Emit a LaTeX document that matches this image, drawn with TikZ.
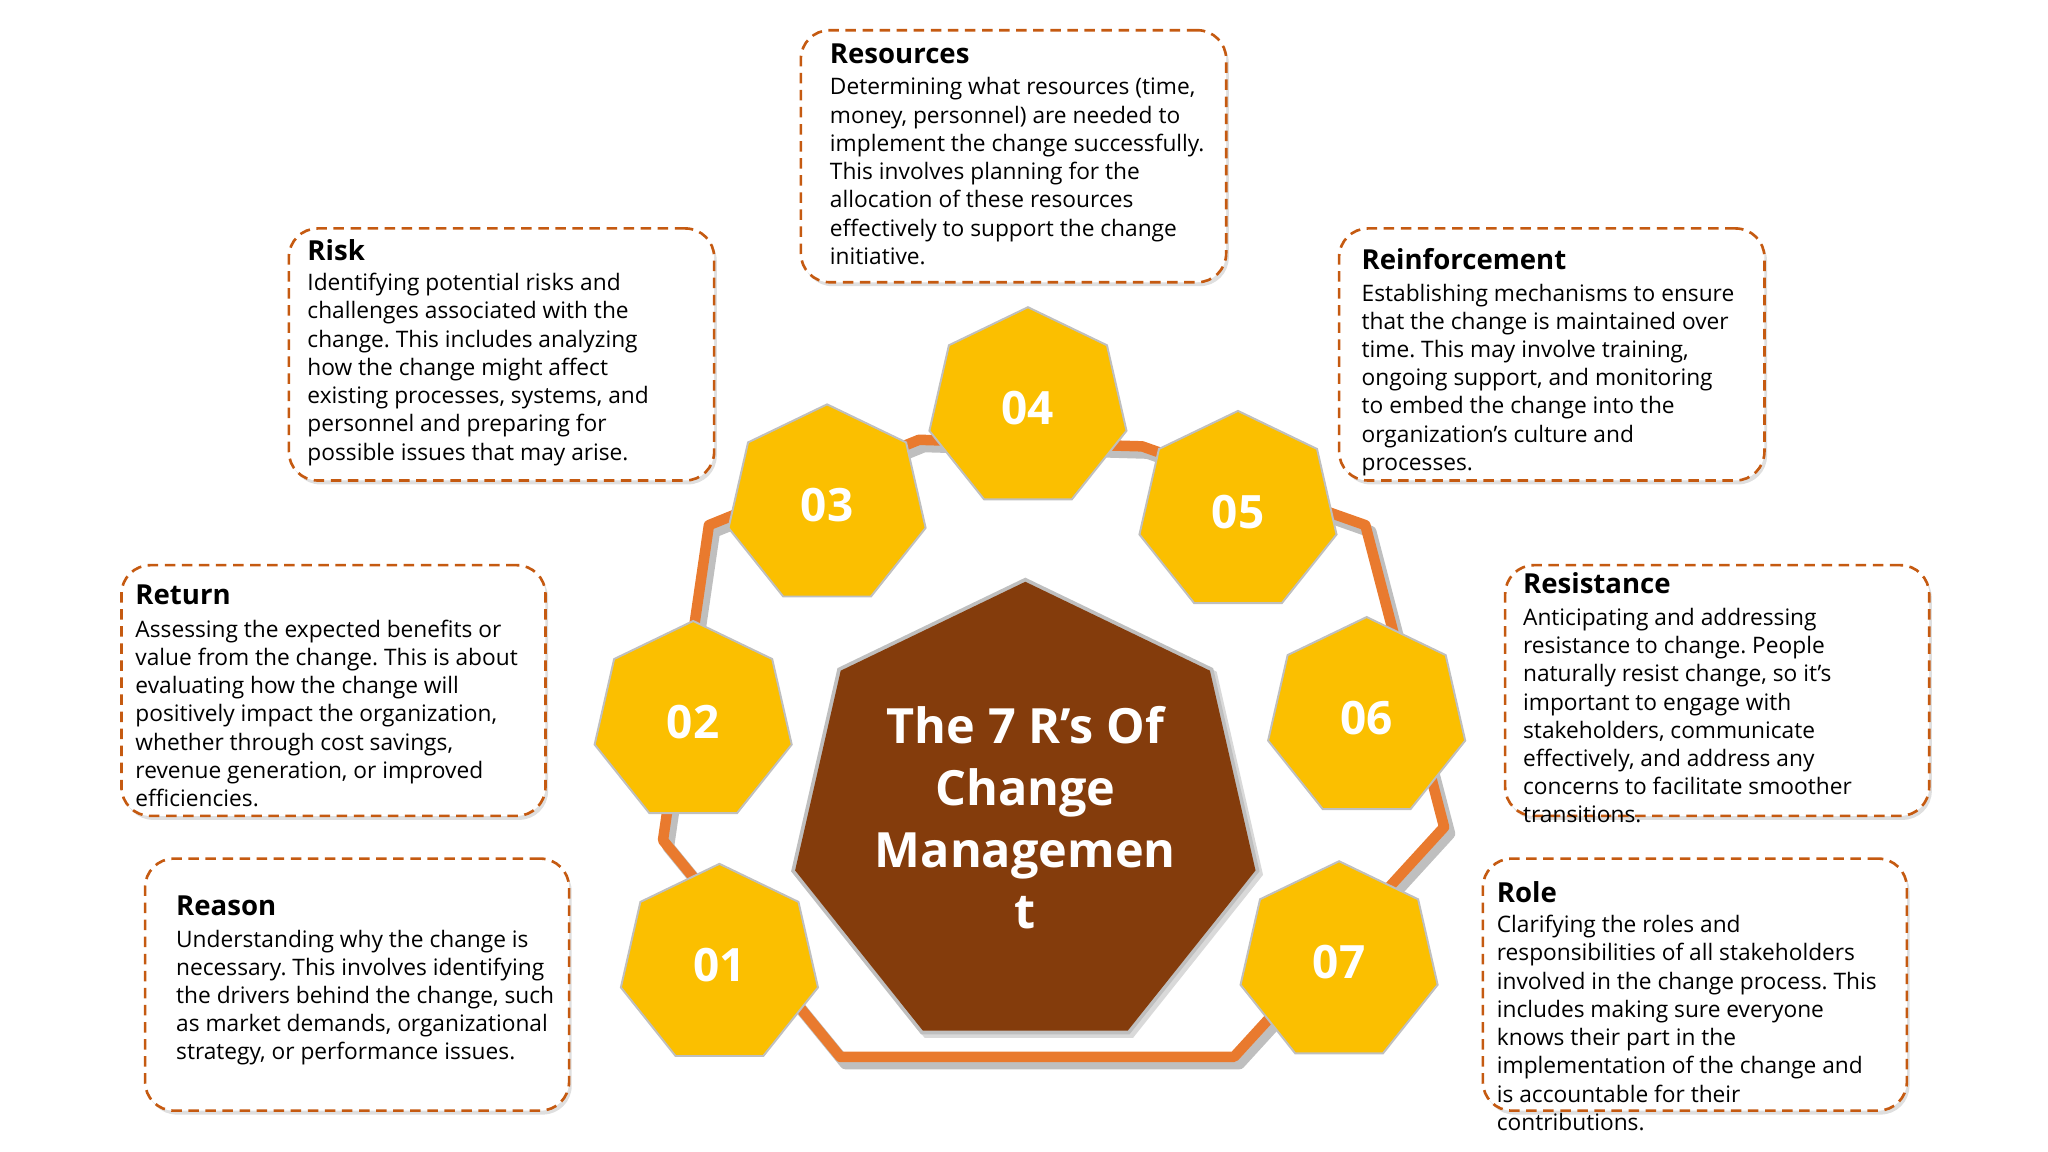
\documentclass[tikz,border=0pt]{standalone}
\usepackage{fontspec}
\setmainfont{Open Sans}
\frenchspacing
\usetikzlibrary{shapes.geometric,shadows}
\definecolor{yel}{HTML}{FBBF00}
\definecolor{brn}{HTML}{843C0C}
\definecolor{org}{HTML}{E97A2E}
\definecolor{dsh}{HTML}{C55A11}
\definecolor{gry}{HTML}{BFBFBF}
\tikzset{
 hept/.style={regular polygon,regular polygon sides=7,inner sep=0pt,minimum size=154pt,fill=yel,draw=gry,line width=1.5pt,text=white,font=\fontsize{35}{40}\selectfont\bfseries},
 infobox/.style={draw=dsh,line width=2pt,dash pattern=on 8pt off 5pt,rounded corners=22pt,fill=white,drop shadow={shadow xshift=2pt,shadow yshift=-3pt,opacity=0.25}},
 ttl/.style={anchor=north west,inner sep=0pt,font=\fontsize{21}{25}\selectfont\bfseries},
 bdy/.style={anchor=north west,inner sep=0pt,align=left,font=\fontsize{17.3}{21.5}\selectfont},
}
\begin{document}
\begin{tikzpicture}[x=1pt,y=-1pt]
\useasboundingbox (0,0) rectangle (1560,877.5);
% ring
\draw[gray!50,line width=9pt,line join=round,xshift=4pt,yshift=-5pt] (505,640)--(540,400)--(700,335)--(870,340)--(1040,400)--(1100,630)--(940,805)--(640,805)--cycle;
\draw[org,line width=8pt,line join=round] (505,640)--(540,400)--(700,335)--(870,340)--(1040,400)--(1100,630)--(940,805)--(640,805)--cycle;
% center
\node[regular polygon,regular polygon sides=7,inner sep=0pt,minimum size=366pt,fill=gry,drop shadow={opacity=0.3}] (cg) at (781,623) {};
\node[regular polygon,regular polygon sides=7,inner sep=0pt,minimum size=330pt,fill=brn,align=center,text=white,font=\fontsize{37}{47}\selectfont\bfseries] (c) at (781,623) {The 7 R’s Of\\Change\\Managemen\\t};
% small heptagons
\node[hept] (h1) at (548,735) {01};
\node[hept] (h2) at (528,550) {02};
\node[hept] (h3) at (630,385) {03};
\node[hept] (h4) at (783,311) {04};
\node[hept] (h5) at (943,390) {05};
\node[hept] (h6) at (1041,547) {06};
\node[hept] (h7) at (1020,733) {07};
% boxes
\node[infobox,minimum width=324pt,minimum height=192pt] (bres) at (772,119) {};
\node[infobox,minimum width=324pt,minimum height=192pt] (brisk) at (382,270) {};
\node[infobox,minimum width=324pt,minimum height=192pt] (brein) at (1182,270) {};
\node[infobox,minimum width=323pt,minimum height=191pt] (bret) at (254,526) {};
\node[infobox,minimum width=323pt,minimum height=191pt] (bresi) at (1308,526) {};
\node[infobox,minimum width=323pt,minimum height=192pt] (brea) at (272,750) {};
\node[infobox,minimum width=323pt,minimum height=192pt] (brole) at (1291,750) {};
% texts
\node[ttl] (t1) at (632,33) {Resources};
\node[bdy] (d1) at (632,59) {Determining what resources (time,\\money, personnel) are needed to\\implement the change successfully.\\This involves planning for the\\allocation of these resources\\effectively to support the change\\initiative.};
\node[ttl] (t2) at (234,182) {Risk};
\node[bdy] (d2) at (234,208) {Identifying potential risks and\\challenges associated with the\\change. This includes analyzing\\how the change might affect\\existing processes, systems, and\\personnel and preparing for\\possible issues that may arise.};
\node[ttl] (t3) at (1037,189) {Reinforcement};
\node[bdy] (d3) at (1037,216) {Establishing mechanisms to ensure\\that the change is maintained over\\time. This may involve training,\\ongoing support, and monitoring\\to embed the change into the\\organization's culture and\\processes.};
\node[ttl] (t4) at (103,445) {Return};
\node[bdy] (d4) at (103,472) {Assessing the expected benefits or\\value from the change. This is about\\evaluating how the change will\\positively impact the organization,\\whether through cost savings,\\revenue generation, or improved\\efficiencies.};
\node[ttl] (t5) at (1160,436) {Resistance};
\node[bdy] (d5) at (1160,463) {Anticipating and addressing\\resistance to change. People\\naturally resist change, so it’s\\important to engage with\\stakeholders, communicate\\effectively, and address any\\concerns to facilitate smoother\\transitions.};
\node[ttl] (t6) at (134,682) {Reason};
\node[bdy] (d6) at (134,708) {Understanding why the change is\\necessary. This involves identifying\\the drivers behind the change, such\\as market demands, organizational\\strategy, or performance issues.};
\node[ttl] (t7) at (1140,671) {Role};
\node[bdy] (d7) at (1140,697) {Clarifying the roles and\\responsibilities of all stakeholders\\involved in the change process. This\\includes making sure everyone\\knows their part in the\\implementation of the change and\\is accountable for their\\contributions.};
\end{tikzpicture}
\end{document}
